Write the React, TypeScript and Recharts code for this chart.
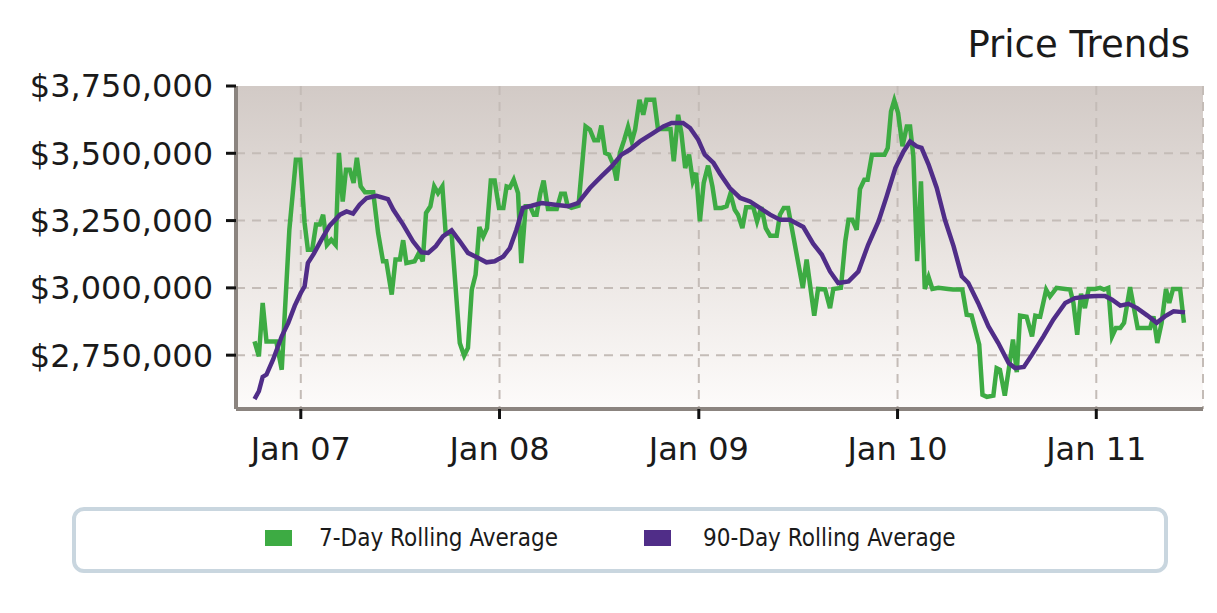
import { CartesianGrid, Line, LineChart, XAxis, YAxis } from "recharts";

// x = days since 1 Jan 2007, values in $ thousands
const sevenDayDays = [
  -85, -77, -70, -63, -45, -35, -21, -9, -1, 7,
  13, 21, 28, 35, 41, 48, 56, 64, 70, 77,
  83, 90, 97, 103, 110, 118, 133, 142, 151, 157,
  167, 174, 182, 188, 194, 209, 217, 224, 230, 238,
  245, 252, 260, 266, 277, 292, 300, 307, 314, 321,
  328, 335, 342, 349, 356, 364, 372, 378, 384, 391,
  399, 405, 413, 421, 428, 433, 440, 446, 454, 470,
  478, 485, 490, 497, 510, 523, 531, 539, 546, 552,
  559, 566, 574, 580, 586, 594, 601, 608, 614, 622,
  629, 635, 649, 656, 672, 679, 685, 693, 699, 706,
  713, 720, 726, 733, 740, 748, 756, 762, 773, 782,
  789, 797, 803, 811, 818, 831, 838, 846, 854, 862,
  874, 880, 887, 895, 922, 929, 943, 950, 963, 972,
  978, 992, 1000, 1006, 1013, 1021, 1027, 1035, 1041, 1049,
  1064, 1072, 1078, 1084, 1090, 1097, 1105, 1113, 1119, 1125,
  1132, 1139, 1146, 1153, 1160, 1171, 1189, 1198, 1215, 1223,
  1232, 1246, 1252, 1260, 1272, 1278, 1284, 1293, 1301, 1308,
  1315, 1321, 1333, 1343, 1349, 1358, 1369, 1376, 1388, 1404,
  1413, 1419, 1426, 1433, 1440, 1447, 1459, 1468, 1475, 1483,
  1490, 1497, 1505, 1512, 1523, 1537, 1546, 1560, 1566, 1573,
  1581, 1589, 1595, 1602, 1615, 1622,
];

const sevenDayValues = [
  2801, 2746, 2944, 2801, 2801, 2696, 3216, 3476, 3476, 3241,
  3142, 3142, 3235, 3235, 3272, 3160, 3179, 3160, 3501, 3321,
  3439, 3439, 3390, 3483, 3377, 3355, 3355, 3204, 3099, 3099,
  2975, 3105, 3105, 3177, 3092, 3099, 3130, 3099, 3278, 3303,
  3377, 3352, 3377, 3204, 3200, 2795, 2748, 2777, 2993, 3049,
  3226, 3191, 3222, 3399, 3399, 3297, 3297, 3377, 3373, 3402,
  3352, 3092, 3303, 3303, 3272, 3272, 3352, 3399, 3293, 3293,
  3350, 3350, 3305, 3297, 3305, 3600, 3588, 3548, 3548, 3603,
  3501, 3495, 3458, 3399, 3501, 3550, 3598, 3544, 3588, 3699,
  3643, 3699, 3699, 3590, 3590, 3590, 3470, 3643, 3575, 3445,
  3495, 3396, 3427, 3247, 3390, 3454, 3377, 3297, 3297, 3303,
  3350, 3290, 3272, 3222, 3300, 3300, 3247, 3300, 3222, 3194,
  3194, 3272, 3297, 3297, 3000, 3105, 2897, 2996, 2994, 2925,
  2996, 3000, 3173, 3253, 3253, 3216, 3367, 3402, 3402, 3495,
  3495, 3495, 3520, 3656, 3697, 3650, 3526, 3600, 3600, 3489,
  3099, 3396, 2996, 3040, 2996, 3000, 2996, 2994, 2994, 2900,
  2897, 2789, 2603, 2595, 2600, 2702, 2696, 2600, 2708, 2808,
  2687, 2897, 2893, 2820, 2897, 2893, 2993, 2968, 3000, 2996,
  2994, 2944, 2826, 2978, 2925, 2996, 2996, 3000, 2994, 3000,
  2820, 2851, 2851, 2870, 3003, 2851, 2851, 2851, 2894, 2795,
  2870, 2996, 2944, 2996, 2996, 2870,
];

const ninetyDayDays = [
  -85, -77, -70, -63, -51, -35, -23, -11, 0, 7,
  13, 24, 38, 53, 72, 84, 96, 108, 121, 139,
  160, 170, 188, 206, 222, 234, 248, 261, 277, 292,
  307, 326, 341, 356, 372, 384, 396, 408, 424, 442,
  467, 491, 509, 531, 552, 571, 589, 604, 623, 647,
  666, 681, 702, 715, 730, 742, 758, 770, 788, 807,
  825, 843, 862, 880, 898, 923, 941, 957, 972, 987,
  1006, 1024, 1042, 1061, 1076, 1092, 1107, 1119, 1131, 1140,
  1153, 1168, 1183, 1199, 1214, 1226, 1244, 1263, 1281, 1300,
  1312, 1328, 1343, 1364, 1382, 1404, 1422, 1444, 1462, 1477,
  1490, 1505, 1520, 1536, 1555, 1572, 1587, 1603, 1624,
];

const ninetyDayValues = [
  2587, 2616, 2669, 2678, 2733, 2820, 2870, 2934, 2981, 3006,
  3092, 3127, 3179, 3231, 3272, 3284, 3276, 3309, 3334, 3342,
  3330, 3290, 3235, 3173, 3132, 3130, 3155, 3191, 3214, 3173,
  3130, 3111, 3095, 3099, 3117, 3148, 3216, 3297, 3305, 3315,
  3309, 3303, 3315, 3371, 3414, 3451, 3495, 3513, 3544, 3575,
  3600, 3613, 3613, 3594, 3550, 3495, 3464, 3424, 3371, 3334,
  3321, 3297, 3272, 3253, 3253, 3226, 3164, 3123, 3061, 3018,
  3024, 3061, 3160, 3247, 3340, 3445, 3507, 3544, 3526, 3520,
  3458, 3371, 3253, 3154, 3043, 3018, 2944, 2857, 2795, 2721,
  2702, 2706, 2752, 2820, 2882, 2944, 2962, 2968, 2970, 2970,
  2956, 2934, 2941, 2925, 2897, 2870, 2894, 2913, 2909,
];

const xTicks = [0, 365, 731, 1096, 1461];
const xTickLabels = ["Jan 07", "Jan 08", "Jan 09", "Jan 10", "Jan 11"];
const yTicks = [2750000, 3000000, 3250000, 3500000, 3750000];

const sevenDay = sevenDayDays.map((day, i) => ({ day, price: sevenDayValues[i] * 1000 }));
const ninetyDay = ninetyDayDays.map((day, i) => ({ day, price: ninetyDayValues[i] * 1000 }));

const GREEN = "#3dab43";
const PURPLE = "#502d88";
const FONT = "'DejaVu Sans', sans-serif";
const TEXT = "#1a1a1a";

const legendText: React.CSSProperties = {
  position: "absolute",
  top: 524,
  fontFamily: "'DejaVu Sans Condensed', 'DejaVu Sans', sans-serif",
  fontStretch: "condensed",
  fontSize: 24,
  lineHeight: "28px",
  color: TEXT,
  whiteSpace: "nowrap",
};

export default function App() {
  return (
    <div
      style={{
        position: "absolute",
        left: 0,
        top: 0,
        width: 1217,
        height: 613,
        background: "#ffffff",
        fontFamily: FONT,
      }}
    >
      <div
        style={{
          position: "absolute",
          right: 27,
          top: 26,
          fontSize: 37,
          lineHeight: "37px",
          color: TEXT,
          whiteSpace: "nowrap",
        }}
      >
        Price Trends
      </div>

      <LineChart
        width={1217}
        height={613}
        margin={{ top: 86, right: 14, bottom: 144, left: 0 }}
      >
        <defs>
          <linearGradient id="plotBg" x1="0" y1="0" x2="0" y2="1">
            <stop offset="0%" stopColor="#d2cac6" />
            <stop offset="55%" stopColor="#ebe6e3" />
            <stop offset="100%" stopColor="#fdfbfa" />
          </linearGradient>
        </defs>
        <CartesianGrid
          stroke="#c4bcb7"
          strokeWidth={2}
          strokeDasharray="9 7"
          fill="url(#plotBg)"
          fillOpacity={1}
          horizontalValues={[2750000, 3000000, 3250000, 3500000]}
        />
        <XAxis
          type="number"
          dataKey="day"
          domain={[-119, 1657]}
          ticks={xTicks}
          allowDataOverflow
          tickFormatter={(v: number) => xTickLabels[xTicks.indexOf(v)]}
          height={60}
          tickSize={10}
          tickMargin={18}
          axisLine={{ stroke: "#8b847f", strokeWidth: 4 }}
          tickLine={{ stroke: "#111111", strokeWidth: 3 }}
          tick={{ fill: TEXT, fontSize: 32, fontFamily: FONT }}
        />
        <YAxis
          type="number"
          domain={[2550000, 3750000]}
          ticks={yTicks}
          allowDataOverflow
          width={236}
          tickFormatter={(v: number) => "$" + v.toLocaleString("en-US")}
          tickSize={10}
          tickMargin={13}
          axisLine={{ stroke: "#8b847f", strokeWidth: 4 }}
          tickLine={{ stroke: "#111111", strokeWidth: 3 }}
          tick={{ fill: TEXT, fontSize: 32, fontFamily: FONT }}
        />
        <Line
          data={sevenDay}
          dataKey="price"
          type="linear"
          stroke={GREEN}
          strokeWidth={4.5}
          dot={false}
          activeDot={false}
          isAnimationActive={false}
        />
        <Line
          data={ninetyDay}
          dataKey="price"
          type="linear"
          stroke={PURPLE}
          strokeWidth={4.5}
          dot={false}
          activeDot={false}
          isAnimationActive={false}
        />
      </LineChart>

      <div
        style={{
          position: "absolute",
          left: 72,
          top: 507,
          width: 1096,
          height: 66,
          boxSizing: "border-box",
          border: "4px solid #c9d6df",
          borderRadius: 12,
          background: "#ffffff",
        }}
      />
      <div style={{ position: "absolute", left: 265, top: 530, width: 27, height: 16, background: GREEN }} />
      <div style={{ ...legendText, left: 319 }}>7-Day Rolling Average</div>
      <div style={{ position: "absolute", left: 644, top: 530, width: 27, height: 16, background: PURPLE }} />
      <div style={{ ...legendText, left: 703 }}>90-Day Rolling Average</div>
    </div>
  );
}
